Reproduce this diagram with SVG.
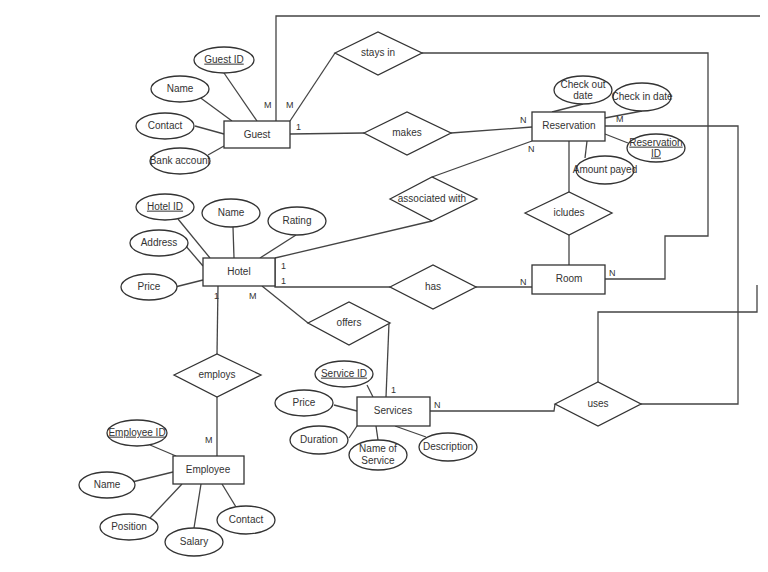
<svg xmlns="http://www.w3.org/2000/svg" width="768" height="572" viewBox="0 0 768 572">
<style>
.s{fill:#fff;stroke:#333;stroke-width:1.3}
.l{fill:none;stroke:#444;stroke-width:1.3}
text{font-family:"Liberation Sans",Arial,sans-serif;font-size:10px;fill:#333;text-anchor:middle;dominant-baseline:middle}
.c{font-size:9px;text-anchor:start}
.u{text-decoration:underline}
</style>
<rect width="768" height="572" fill="#fff"/>
<g id="connectors" class="l">
<polyline points="276,121 276,16 760,16"/>
<polyline points="422,53 708,53 708,236 665,236 665,279 605,279"/>
<polyline points="605,126 738,126 738,404 641,404"/>
<polyline points="598,382 598,312 757,312 757,285"/>
<line x1="290" y1="134" x2="364" y2="133"/>
<line x1="451" y1="133" x2="532" y2="127"/>
<line x1="290" y1="121" x2="335" y2="53"/>
<line x1="275" y1="258" x2="432" y2="221"/>
<line x1="432" y1="177" x2="532" y2="141"/>
<polyline points="275,258 275,287 390,287"/>
<line x1="476" y1="287" x2="532" y2="287"/>
<line x1="569" y1="141" x2="569" y2="192"/>
<line x1="569" y1="235" x2="569" y2="265"/>
<line x1="262" y1="286" x2="308" y2="323"/>
<line x1="389" y1="323" x2="386" y2="397"/>
<line x1="218" y1="286" x2="217" y2="354"/>
<line x1="217" y1="397" x2="217" y2="456"/>
<polyline points="430,411 554,411 555,404"/>
<line x1="224" y1="73" x2="257" y2="121"/>
<line x1="198" y1="96" x2="232" y2="121"/>
<line x1="195" y1="126" x2="224" y2="134"/>
<line x1="208" y1="155" x2="224" y2="146"/>
<line x1="583" y1="104" x2="552" y2="112"/>
<line x1="642" y1="111" x2="605" y2="118"/>
<line x1="628" y1="143" x2="605" y2="134"/>
<line x1="587" y1="141" x2="585" y2="158"/>
<line x1="178" y1="219" x2="210" y2="258"/>
<line x1="233" y1="227" x2="234" y2="258"/>
<line x1="296" y1="235" x2="260" y2="258"/>
<line x1="185" y1="245" x2="203" y2="266"/>
<line x1="175" y1="287" x2="203" y2="280"/>
<line x1="150" y1="445" x2="176" y2="456"/>
<line x1="132" y1="482" x2="173" y2="472"/>
<line x1="150" y1="518" x2="182" y2="484"/>
<line x1="194" y1="528" x2="201" y2="484"/>
<line x1="236" y1="507" x2="222" y2="484"/>
<line x1="367" y1="385" x2="373" y2="397"/>
<line x1="334" y1="405" x2="357" y2="411"/>
<line x1="349" y1="438" x2="357" y2="426"/>
<line x1="378" y1="440" x2="376" y2="426"/>
<line x1="426" y1="437" x2="395" y2="426"/>
</g>
<g id="guest"><rect class="s" x="224" y="121" width="66" height="27"/><text x="257" y="135">Guest</text></g>
<g id="guest-id"><ellipse class="s" cx="224" cy="60" rx="30" ry="13"/><text class="u" x="224" y="60">Guest ID</text></g>
<g id="guest-name"><ellipse class="s" cx="180" cy="89" rx="29" ry="13"/><text x="180" y="89">Name</text></g>
<g id="guest-contact"><ellipse class="s" cx="165" cy="126" rx="29" ry="13"/><text x="165" y="126">Contact</text></g>
<g id="guest-bank"><ellipse class="s" cx="180" cy="161" rx="30" ry="13"/><text x="180" y="161">Bank account</text></g>
<g id="stays-in"><polygon class="s" points="335,53 378,32 422,53 378,75"/><text x="378" y="53">stays in</text></g>
<g id="makes"><polygon class="s" points="364,133 407,112 451,133 407,155"/><text x="407" y="133">makes</text></g>
<g id="reservation"><rect class="s" x="532" y="112" width="73" height="29"/><text x="569" y="126">Reservation</text></g>
<g id="checkout"><ellipse class="s" cx="583" cy="90" rx="29" ry="14"/><text x="583" y="85">Check out</text><text x="583" y="96">date</text></g>
<g id="checkin"><ellipse class="s" cx="642" cy="97" rx="29" ry="14"/><text x="642" y="97">Check in date</text></g>
<g id="res-id"><ellipse class="s" cx="656" cy="148" rx="29" ry="14"/><text class="u" x="656" y="143">Reservation</text><text class="u" x="656" y="154">ID</text></g>
<g id="amount"><ellipse class="s" cx="605" cy="170" rx="29" ry="14"/><text x="605" y="170">Amount payed</text></g>
<g id="associated"><polygon class="s" points="390,199 432,177 477,199 432,221"/><text x="432" y="199">associated with</text></g>
<g id="iclides"><polygon class="s" points="525,213 569,192 612,213 569,235"/><text x="569" y="213">icludes</text></g>
<g id="room"><rect class="s" x="532" y="265" width="73" height="29"/><text x="569" y="279">Room</text></g>
<g id="hotel"><rect class="s" x="203" y="258" width="72" height="28"/><text x="239" y="272">Hotel</text></g>
<g id="hotel-id"><ellipse class="s" cx="165" cy="207" rx="29" ry="13"/><text class="u" x="165" y="207">Hotel ID</text></g>
<g id="hotel-name"><ellipse class="s" cx="231" cy="213" rx="29" ry="14"/><text x="231" y="213">Name</text></g>
<g id="rating"><ellipse class="s" cx="297" cy="221" rx="29" ry="14"/><text x="297" y="221">Rating</text></g>
<g id="address"><ellipse class="s" cx="159" cy="243" rx="29" ry="13"/><text x="159" y="243">Address</text></g>
<g id="hotel-price"><ellipse class="s" cx="149" cy="287" rx="28" ry="13"/><text x="149" y="287">Price</text></g>
<g id="has"><polygon class="s" points="390,287 433,265 476,287 433,309"/><text x="433" y="287">has</text></g>
<g id="offers"><polygon class="s" points="308,323 349,302 390,323 349,345"/><text x="349" y="323">offers</text></g>
<g id="employs"><polygon class="s" points="174,375 217,354 261,375 217,397"/><text x="217" y="375">employs</text></g>
<g id="employee"><rect class="s" x="173" y="456" width="71" height="28"/><text x="208" y="470">Employee</text></g>
<g id="emp-id"><ellipse class="s" cx="137" cy="433" rx="30" ry="13"/><text class="u" x="137" y="433">Employee ID</text></g>
<g id="emp-name"><ellipse class="s" cx="107" cy="485" rx="28" ry="13"/><text x="107" y="485">Name</text></g>
<g id="position"><ellipse class="s" cx="129" cy="527" rx="29" ry="13"/><text x="129" y="527">Position</text></g>
<g id="salary"><ellipse class="s" cx="194" cy="542" rx="29" ry="14"/><text x="194" y="542">Salary</text></g>
<g id="emp-contact"><ellipse class="s" cx="246" cy="520" rx="29" ry="14"/><text x="246" y="520">Contact</text></g>
<g id="services"><rect class="s" x="357" y="397" width="73" height="29"/><text x="393" y="411">Services</text></g>
<g id="service-id"><ellipse class="s" cx="344" cy="374" rx="29" ry="13"/><text class="u" x="344" y="374">Service ID</text></g>
<g id="svc-price"><ellipse class="s" cx="304" cy="403" rx="29" ry="13"/><text x="304" y="403">Price</text></g>
<g id="duration"><ellipse class="s" cx="319" cy="440" rx="29" ry="14"/><text x="319" y="440">Duration</text></g>
<g id="svc-name"><ellipse class="s" cx="378" cy="455" rx="29" ry="15"/><text x="378" y="449">Name of</text><text x="378" y="461">Service</text></g>
<g id="description"><ellipse class="s" cx="448" cy="447" rx="29" ry="14"/><text x="448" y="447">Description</text></g>
<g id="uses"><polygon class="s" points="555,404 598,382 641,404 598,426"/><text x="598" y="404">uses</text></g>
<g id="cardinalities">
<text class="c" x="264" y="106">M</text><text class="c" x="286" y="106">M</text><text class="c" x="296" y="128">1</text>
<text class="c" x="520" y="121">N</text><text class="c" x="528" y="150">N</text><text class="c" x="616" y="120">M</text>
<text class="c" x="281" y="267">1</text><text class="c" x="281" y="282">1</text><text class="c" x="249" y="297">M</text><text class="c" x="214" y="297">1</text>
<text class="c" x="520" y="283">N</text><text class="c" x="609" y="274">N</text><text class="c" x="391" y="391">1</text><text class="c" x="434" y="406">N</text><text class="c" x="205" y="441">M</text>
</g>
</svg>
